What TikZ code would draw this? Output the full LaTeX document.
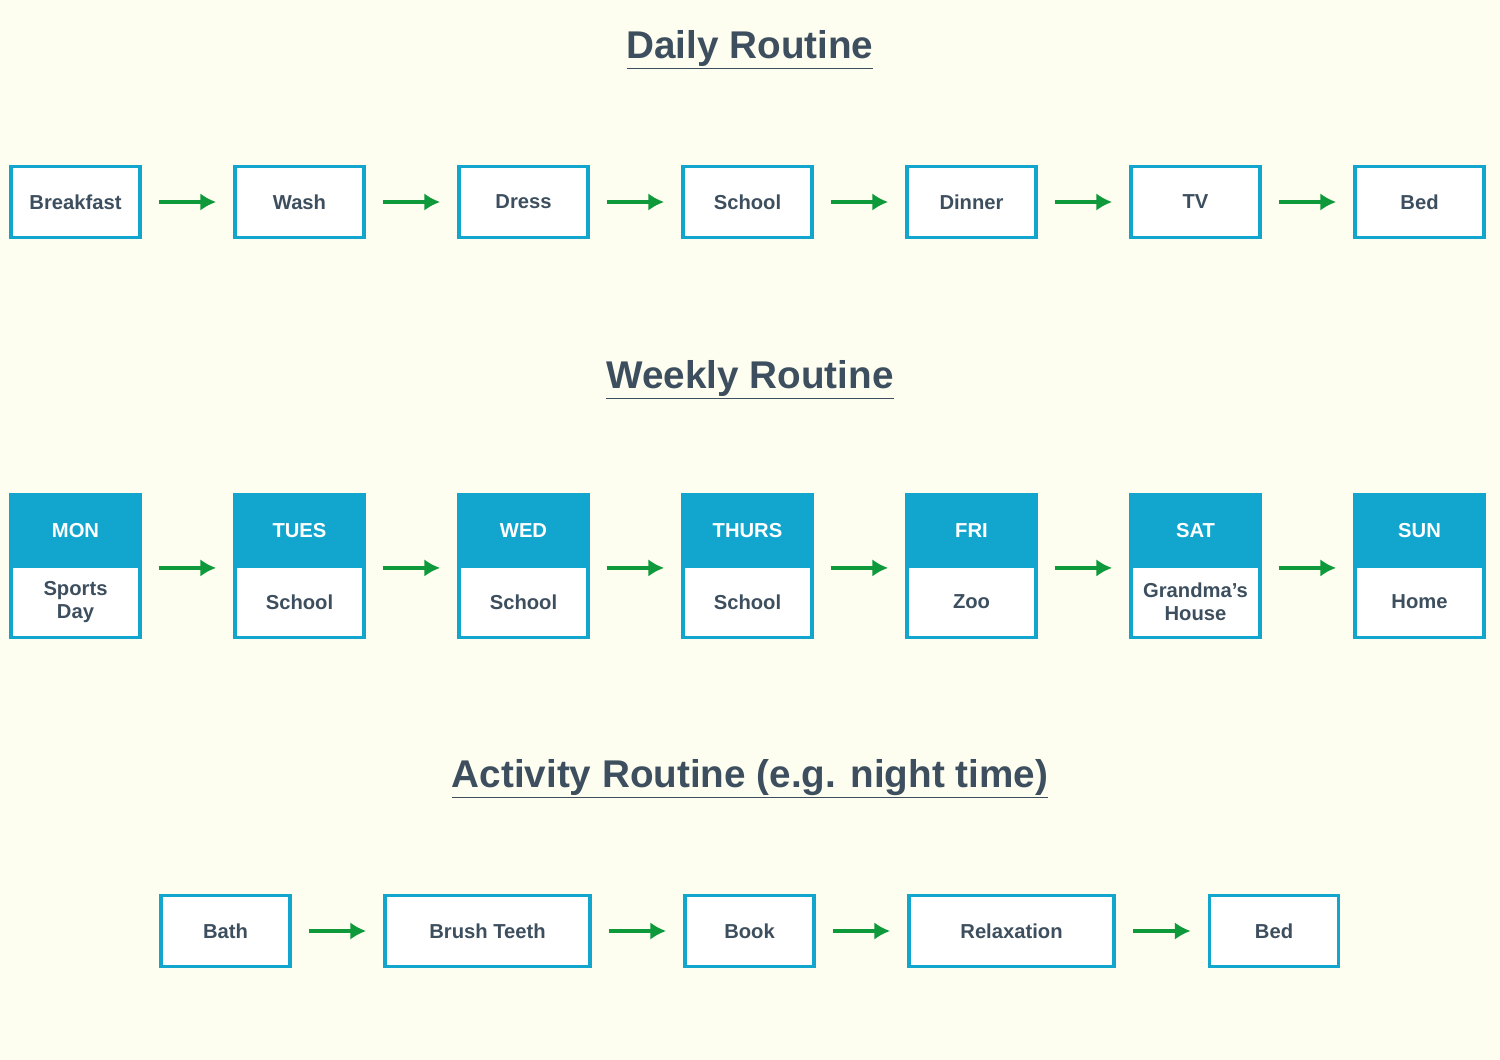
\documentclass[tikz,border=0pt]{standalone}
\usepackage{fontspec}
\setmainfont{Liberation Sans}
\usetikzlibrary{arrows.meta}
\definecolor{bg}{HTML}{FDFDF0}
\definecolor{bx}{HTML}{12A6CF}
\definecolor{tx}{HTML}{3D4F5E}
\definecolor{ar}{HTML}{0E9A3A}
\begin{document}
\begin{tikzpicture}[x=0.02cm,y=-0.02cm,
  box/.style={draw=bx,line width=2.2pt,fill=white,minimum height=1.42cm,text=tx,font=\bfseries\fontsize{11.5}{13}\selectfont,align=center,inner sep=0},
  hdr/.style={draw=bx,line width=2.2pt,fill=bx,minimum width=2.58cm,minimum height=1.42cm,text=white,font=\bfseries\fontsize{11.5}{13}\selectfont,inner sep=0},
  ttl/.style={text=tx,font=\bfseries\fontsize{22}{26}\selectfont},
  arr/.style={draw=ar,line width=2.3pt,-{Latex[length=9pt,width=10pt]}}]
\fill[bg] (0,0) rectangle (1500,1060);
\node[ttl] (t1) at (750,50) {\underline{Daily Routine}};
\node[ttl] (t2) at (750,380) {\underline{Weekly Routine}};
\node[ttl] (t3) at (750,779) {\underline{Activity Routine (e.g. night time)}};
\foreach \n/\t [count=\i] in {d1/Breakfast,d2/Wash,d3/Dress,d4/School,d5/Dinner,d6/TV,d7/Bed}
  \node[box,minimum width=2.58cm] (\n) at ({75.5+224*(\i-1)},202) {\t};
\foreach \a/\b in {d1/d2,d2/d3,d3/d4,d4/d5,d5/d6,d6/d7}
  \draw[arr] ([xshift=0.34cm]\a.east) -- ([xshift=-0.34cm]\b.west);
\foreach \n/\h/\t [count=\i] in {w1/MON/Sports\\Day,w2/TUES/School,w3/WED/School,w4/THURS/School,w5/FRI/Zoo,w6/SAT/Grandma’s\\House,w7/SUN/Home}{
  \node[box,minimum width=2.58cm] (\n) at ({75.5+224*(\i-1)},602) {\t};
  \node[hdr] (\n h) at ({75.5+224*(\i-1)},530.5) {\h};}
\foreach \a/\b in {w1/w2,w2/w3,w3/w4,w4/w5,w5/w6,w6/w7}
  \draw[arr] ([xshift=0.34cm]\a h.south east) -- ([xshift=-0.34cm]\b h.south west);
\node[box,minimum width=2.58cm] (a1) at (225.5,931) {Bath};
\node[box,minimum width=4.1cm] (a2) at (487.5,931) {Brush Teeth};
\node[box,minimum width=2.58cm] (a3) at (749.5,931) {Book};
\node[box,minimum width=4.1cm] (a4) at (1011.5,931) {Relaxation};
\node[box,minimum width=2.58cm] (a5) at (1274,931) {Bed};
\foreach \a/\b in {a1/a2,a2/a3,a3/a4,a4/a5}
  \draw[arr] ([xshift=0.34cm]\a.east) -- ([xshift=-0.34cm]\b.west);
\end{tikzpicture}
\end{document}
